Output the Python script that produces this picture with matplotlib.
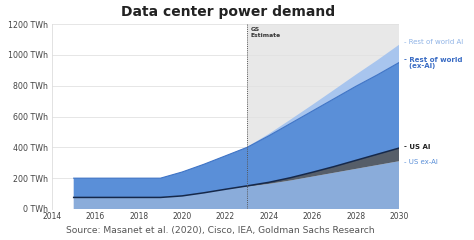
import numpy as np
import matplotlib
matplotlib.use("Agg")
import matplotlib.pyplot as plt

# data (TWh)
years = list(range(2015, 2031))
us_ex_ai = [75, 75, 75, 75, 75, 85, 105, 128, 145, 163, 185, 210, 235, 260, 285, 310]
us_ai = [0, 0, 0, 0, 0, 0, 0, 0, 5, 10, 18, 28, 40, 55, 70, 85]
row_ex_ai = [125, 125, 125, 125, 125, 155, 185, 217, 250, 302, 352, 397, 440, 480, 515, 555]
row_ai = [0, 0, 0, 0, 0, 0, 0, 0, 3, 12, 25, 40, 57, 75, 95, 115]

estimate_start = 2023
yticks = [0, 200, 400, 600, 800, 1000, 1200]
xticks = [2014, 2016, 2018, 2020, 2022, 2024, 2026, 2028, 2030]

plt.rcParams['font.family'] = ['DejaVu Sans']

fig = plt.figure(figsize=(4.74, 2.40), dpi=100)
ax = fig.add_axes([52/474, 1 - 209/240, (399 - 52)/474, (209 - 24)/240])

ax.axvspan(estimate_start, 2030, color='#e8e8e8', zorder=0, lw=0)
for y in yticks:
    ax.axhline(y, color='#e2e2e2', lw=0.6, zorder=0.5)

c_us_ex = '#8aacda'
c_us_ai = '#565e69'
c_row_ex = '#5a8fd8'
c_row_ai = '#a8c5ee'

ax.stackplot(years, us_ex_ai, us_ai, row_ex_ai, row_ai,
             colors=[c_us_ex, c_us_ai, c_row_ex, c_row_ai], lw=0, zorder=1)

us_total = np.array(us_ex_ai) + np.array(us_ai)
row_top = us_total + np.array(row_ex_ai)
ax.plot(years, us_total, color='#15284a', lw=1.1, zorder=2)
ax.plot(years, row_top, color='#3f74c6', lw=0.8, zorder=2)

ax.axvline(estimate_start, color='#555555', lw=0.7, ls=(0, (1, 1.2)), zorder=3)
ax.text(estimate_start + 0.15, 1180, "GS\nEstimate", fontsize=4.3, color='#333333',
        va='top', ha='left', fontweight='bold', linespacing=1.3)

ax.set_xlim(2014, 2030)
ax.set_ylim(0, 1200)
ax.set_xticks(xticks)
ax.set_yticks(yticks)
ax.set_yticklabels([f"{y} TWh" for y in yticks])
ax.tick_params(axis='y', length=0, labelsize=5.7, labelcolor='#444444', pad=3)
ax.tick_params(axis='x', length=0, labelsize=5.5, labelcolor='#444444', pad=2)
for s in ['top', 'right', 'bottom']:
    ax.spines[s].set_visible(False)
ax.spines['left'].set_color('#dddddd')
ax.spines['left'].set_linewidth(0.6)

# series labels on the right
lab_x = 2030.25
tot = row_top + np.array(row_ai)
ax.text(lab_x, tot[-1] + 20, "- Rest of world AI", fontsize=5, color='#8fb3e6',
        va='center', ha='left', clip_on=False)
ax.text(lab_x, row_top[-1] - 2, "- Rest of world\n  (ex-AI)", fontsize=5, color='#3a6cc4',
        va='center', ha='left', fontweight='bold', linespacing=0.95, clip_on=False)
ax.text(lab_x, us_total[-1] + 5, "- US AI", fontsize=5, color='#222222',
        va='center', ha='left', fontweight='bold', clip_on=False)
ax.text(lab_x, us_ex_ai[-1] - 5, "- US ex-AI", fontsize=5, color='#5a8fd8',
        va='center', ha='left', clip_on=False)

fig.text(228/474, 1 - 12/240, "Data center power demand", fontsize=10,
         fontweight='bold', color='#222222', ha='center', va='center')
fig.text(220/474, 1 - 231/240, "Source: Masanet et al. (2020), Cisco, IEA, Goldman Sachs Research",
         fontsize=6.6, color='#555555', ha='center', va='center')

fig.savefig("out.png", dpi=100)
